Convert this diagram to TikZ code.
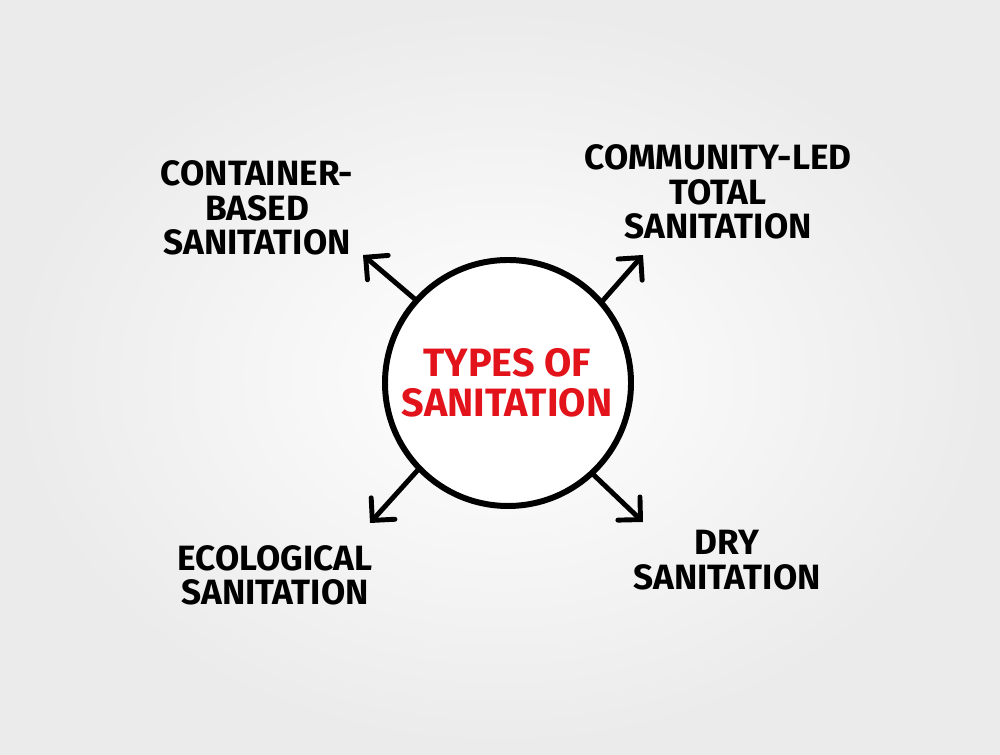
\documentclass[tikz,border=0pt]{standalone}
\usepackage{fontspec}
\usepackage{xcolor}
\usepackage{tikz}
\usetikzlibrary{arrows.meta}
\setmainfont{Fira Sans}
\definecolor{titlered}{HTML}{E3131B}
\tikzstyle{hub}=[circle,draw=black,line width=3.4pt,minimum size=4.92cm,fill=white]
\tikzstyle{kind}=[align=center,font=\bfseries\fontsize{20}{19.5}\selectfont]
\tikzstyle{arr}=[line width=2.8pt,line cap=round,-{Straight Barb[length=3.2mm,width=6.4mm,line cap=round]}]

\begin{document}
\begin{tikzpicture}
					\shade[inner color=white,outer color=black!8] (0,0) rectangle (20,15.1);
					\useasboundingbox (0,0) rectangle (20,15.1);
					\node [hub] (hub) at (10.16,7.44) {};
					\node [align=center,text=titlered,font=\bfseries\fontsize{22.5}{23}\selectfont] (title) at (10.14,7.44) {TYPES OF\\SANITATION};
					\coordinate (tipcb) at (7.26,10.0);
					\coordinate (tipclts) at (12.86,10.0);
					\coordinate (tipeco) at (7.40,4.64);
					\coordinate (tipdry) at (12.86,4.66);
					\draw [arr] (hub.138.9) -- (tipcb);
					\draw [arr] (hub.41.8) -- (tipclts);
					\draw [arr] (hub.224) -- (tipeco);
					\draw [arr] (hub.313.5) -- (tipdry);
					\node [kind] (cb) at (5.14,10.94) {CONTAINER-\\BASED\\SANITATION};
					\node [kind] (clts) at (14.36,11.26) {COMMUNITY-LED\\TOTAL\\SANITATION};
					\node [kind] (eco) at (5.50,3.60) {ECOLOGICAL\\SANITATION};
					\node [kind] (dry) at (14.54,3.90) {DRY\\SANITATION};
					\end{tikzpicture}
\end{document}
